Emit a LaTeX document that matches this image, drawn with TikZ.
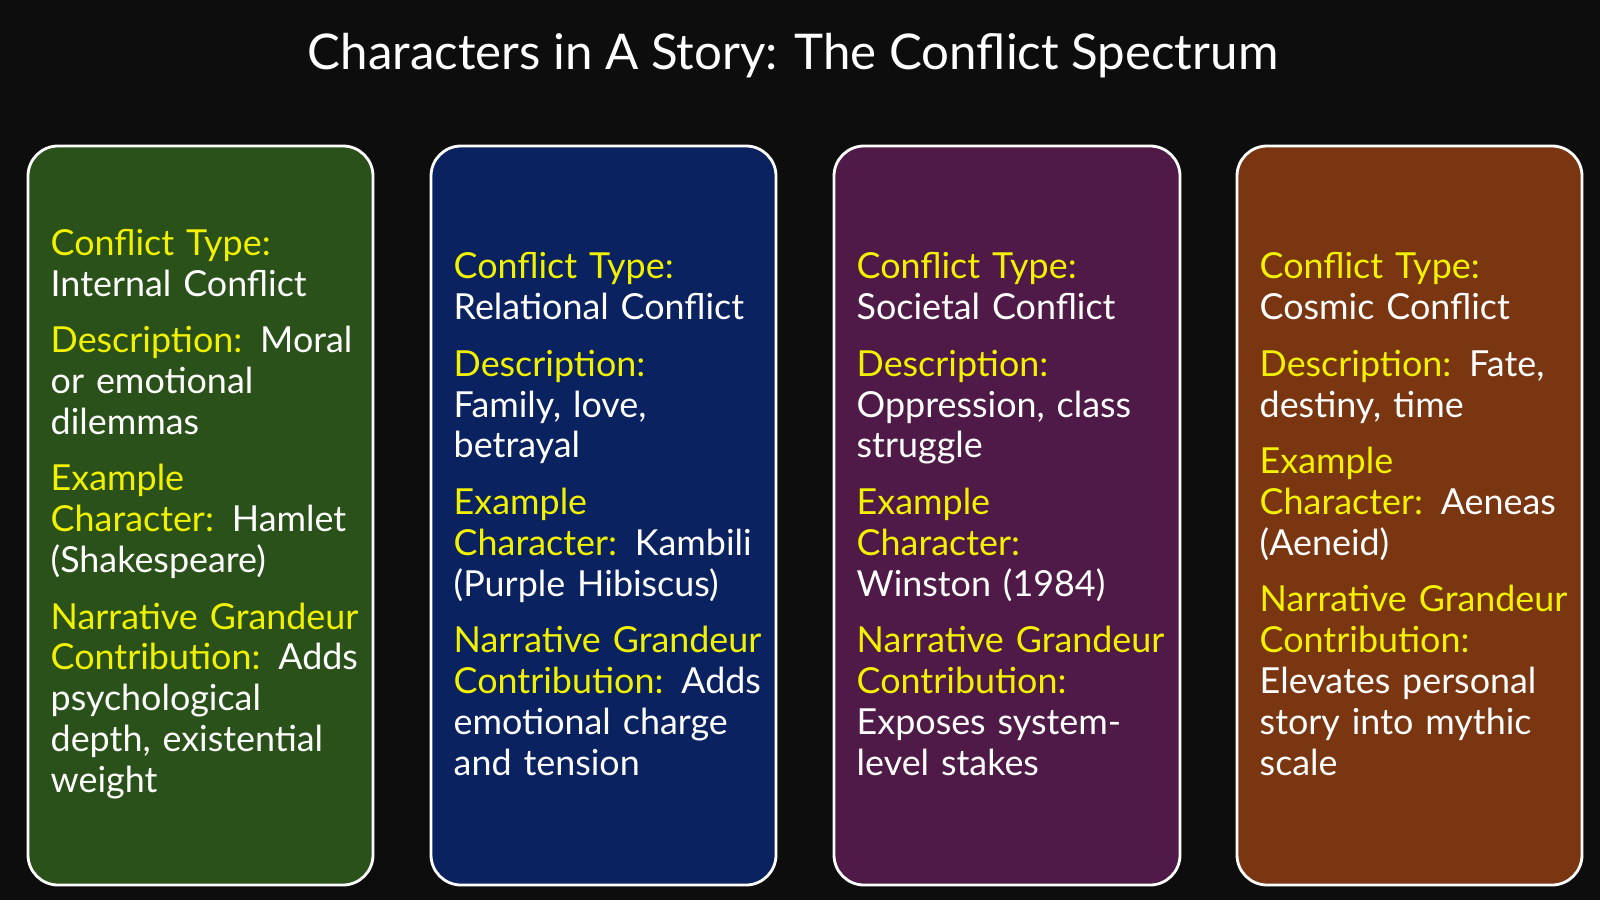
\documentclass[tikz,border=0pt]{standalone}
\usepackage{fontspec}
\setmainfont{Lato}
\usetikzlibrary{positioning}
\definecolor{bgdark}{HTML}{0D0D0D}
\definecolor{cardgreen}{HTML}{2A5119}
\definecolor{cardblue}{HTML}{0A2260}
\definecolor{cardpurple}{HTML}{4F1A47}
\definecolor{cardbrown}{HTML}{7A3511}
\definecolor{hilite}{HTML}{F2F200}
\newcommand{\hl}[1]{\textcolor{hilite}{#1}}
\newcommand{\gap}{\par\vspace{4.5pt}}

\begin{document}
\begin{tikzpicture}[x=0.01cm,y=-0.01cm,
    card/.style={draw=white,line width=0.8pt,rounded corners=0.3cm},
    cardtext/.style={text=white,text width=3.3cm,align=left,font=\fontsize{10.2}{11.6}\selectfont,inner sep=0pt}]
    % Background
    \fill[bgdark] (0,0) rectangle (1600,900);

    % Title
    \node[text=white,font=\fontsize{14}{16}\selectfont] (title) at (793,56) {Characters in A Story: The Conflict Spectrum};

    % Cards
    \draw[card,fill=cardgreen]  (28,146)  rectangle (373,885);
    \draw[card,fill=cardblue]   (431,146) rectangle (776,885);
    \draw[card,fill=cardpurple] (834,146) rectangle (1180,885);
    \draw[card,fill=cardbrown]  (1237,146) rectangle (1582,885);

    % Card texts
    \node[cardtext,anchor=west] (internal) at (50,514) {%
        \hl{Conflict Type:}\\ Internal Conflict\gap
        \hl{Description:} Moral\\ or emotional\\ dilemmas\gap
        \hl{Example}\\ \hl{Character:} Hamlet\\ (Shakespeare)\gap
        \hl{Narrative Grandeur}\\ \hl{Contribution:} Adds\\ psychological\\ depth, existential\\ weight};
    \node[cardtext,anchor=west] (relational) at (453,514) {%
        \hl{Conflict Type:}\\ Relational Conflict\gap
        \hl{Description:}\\ Family, love,\\ betrayal\gap
        \hl{Example}\\ \hl{Character:} Kambili\\ (Purple Hibiscus)\gap
        \hl{Narrative Grandeur}\\ \hl{Contribution:} Adds\\ emotional charge\\ and tension};
    \node[cardtext,anchor=west] (societal) at (856,514) {%
        \hl{Conflict Type:}\\ Societal Conflict\gap
        \hl{Description:}\\ Oppression, class\\ struggle\gap
        \hl{Example}\\ \hl{Character:}\\ Winston (1984)\gap
        \hl{Narrative Grandeur}\\ \hl{Contribution:}\\ Exposes system-\\level stakes};
    \node[cardtext,anchor=west] (cosmic) at (1259,514) {%
        \hl{Conflict Type:}\\ Cosmic Conflict\gap
        \hl{Description:} Fate,\\ destiny, time\gap
        \hl{Example}\\ \hl{Character:} Aeneas\\ (Aeneid)\gap
        \hl{Narrative Grandeur}\\ \hl{Contribution:}\\ Elevates personal\\ story into mythic\\ scale};
\end{tikzpicture}
\end{document}
